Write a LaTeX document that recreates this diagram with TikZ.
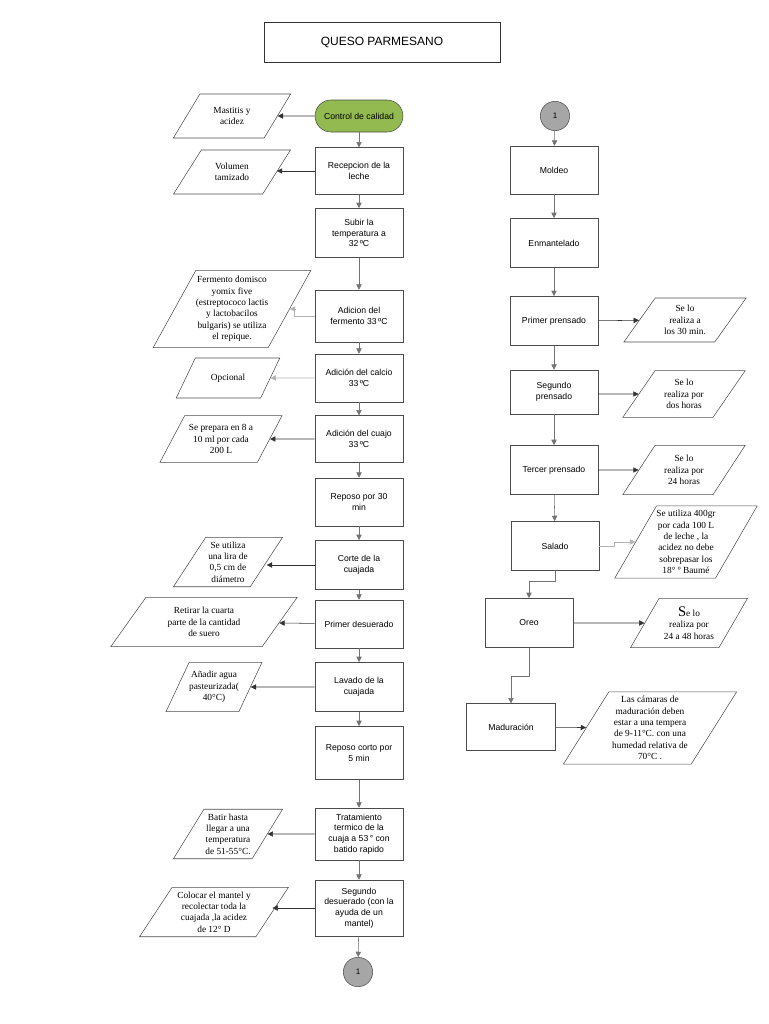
\documentclass[tikz,border=0pt]{standalone}
\usepackage{fontspec}
\setmainfont{Liberation Serif}
\newfontfamily\sans{Liberation Sans}
\usetikzlibrary{shapes.geometric,arrows.meta}
\definecolor{okgreen}{RGB}{146,186,80}
\begin{document}
\begin{tikzpicture}[x=0.75pt,y=-0.75pt,
  proc/.style={draw=black!70,minimum width=66pt,align=center,font=\sans\fontsize{6.5}{8}\selectfont},
  note/.style={draw=black!70,trapezium,trapezium left angle=60,trapezium right angle=120,
    shape border rotate=0,trapezium stretches=true,inner xsep=0pt,align=center,font=\fontsize{7}{8.5}\selectfont},
  conn/.style={draw=black!70,fill=black!35,circle,minimum size=22pt,font=\sans\fontsize{6}{7}\selectfont},
  flow/.style={-{Triangle[length=4pt,width=4pt]},black!55},
  side/.style={-{Triangle[length=4pt,width=4pt]},black!80},
  lite/.style={-{Triangle[length=4pt,width=4pt]},black!30}]
\useasboundingbox (0,0) rectangle (768,1024);
\node[draw=black!80,minimum width=177pt,minimum height=30pt,font=\sans\fontsize{9}{10}\selectfont] (title) at (382,42) {QUESO PARMESANO};
% left column
\node[proc,rounded corners=12pt,fill=okgreen,minimum height=24pt] (c1) at (359,116) {Control de calidad};
\node[proc,minimum height=35pt] (c2) at (359,171) {Recepcion de la\\leche};
\node[proc,minimum height=37pt] (c3) at (359,233) {Subir la\\temperatura a\\32\,ºC};
\node[proc,minimum height=39pt] (c4) at (359,316) {Adicion del\\fermento 33\,ºC};
\node[proc,minimum height=36pt] (c5) at (359,378) {Adición del calcio\\33\,ºC};
\node[proc,minimum height=35pt] (c6) at (359,439) {Adición del cuajo\\33\,ºC};
\node[proc,minimum height=36pt] (c7) at (359,502) {Reposo por 30\\min};
\node[proc,minimum height=37pt] (c8) at (359,565) {Corte de la\\cuajada};
\node[proc,minimum height=36pt] (c9) at (359,624) {Primer desuerado};
\node[proc,minimum height=37pt] (c10) at (359,687) {Lavado de la\\cuajada};
\node[proc,minimum height=40pt] (c11) at (359,753) {Reposo corto por\\5 min};
\node[proc,minimum height=39pt] (c12) at (359,834) {Tratamiento\\termico de la\\cuaja a 53\,° con\\batido rapido};
\node[proc,minimum height=42pt] (c13) at (359,908) {Segundo\\desuerado (con la\\ayuda de un\\mantel)};
\node[conn] (k1) at (358,972) {1};
\foreach \a/\b in {c1/c2,c2/c3,c3/c4,c4/c5,c5/c6,c6/c7,c7/c8,c8/c9,c9/c10,c10/c11,c11/c12,c12/c13,c13/k1}
  \draw[flow] (\a) -- (\b);
% left notes
\node[note,minimum width=88pt,minimum height=33pt] (n1) at (232,116) {Mastitis y\\acidez};
\node[note,minimum width=88pt,minimum height=33pt] (n2) at (232,172) {Volumen\\tamizado};
\node[note,minimum width=96pt,minimum height=58pt] (n3) at (232,309) {Fermento domisco\\yomix five\\(estreptococo lactis\\y lactobacilos\\bulgaris) se utiliza\\el repique.};
\node[note,minimum width=78pt,minimum height=30pt] (n4) at (228,378) {Opcional};
\node[note,minimum width=92pt,minimum height=35pt] (n5) at (221,439) {Se prepara en 8 a\\10 ml por cada\\200 L};
\node[note,minimum width=82pt,minimum height=36pt] (n6) at (228,562) {Se utiliza\\una lira de\\0,5 cm de\\diámetro};
\node[note,minimum width=140pt,minimum height=37pt] (n7) at (204,622) {Retirar la cuarta\\parte de la cantidad\\de suero};
\node[note,minimum width=64pt,minimum height=37pt] (n8) at (214,687) {Añadir agua\\pasteurizada(\\40°C)};
\node[note,minimum width=82pt,minimum height=36pt] (n9) at (228,834) {Batir hasta\\llegar a una\\temperatura\\de 51-55°C.};
\node[note,minimum width=112pt,minimum height=36pt] (n10) at (214,912) {Colocar el mantel y\\recolectar toda la\\cuajada ,la acidez\\de 12° D};
\draw[side] (c1) -- (n1);
\draw[side] (c2.west) -- (n2.east |- c2.west);
\draw[lite] (c4.west) -- ++(-20,0) |- (n3.east);
\draw[lite] (c5) -- (n4);
\draw[side] (c6) -- (n5);
\draw[side] (c8.west) -- (n6.east |- c8.west);
\draw[side] (c9) -- (n7);
\draw[side] (c10) -- (n8);
\draw[side] (c12) -- (n9);
\draw[side] (c13.west) -- (n10.east |- c13.west);
% right column
\node[conn] (k2) at (555,116) {1};
\node[proc,minimum height=36pt] (r1) at (554,170) {Moldeo};
\node[proc,minimum height=37pt] (r2) at (554,243) {Enmantelado};
\node[proc,minimum height=37pt] (r3) at (554,321) {Primer prensado};
\node[proc,minimum height=33pt] (r4) at (554,392) {Segundo\\prensado};
\node[proc,minimum height=37pt] (r5) at (554,470) {Tercer prensado};
\node[proc,minimum height=37pt] (r6) at (555,546) {Salado};
\node[proc,minimum height=37pt] (r7) at (529,623) {Oreo};
\node[proc,minimum height=35pt,minimum width=67pt] (r8) at (511,727) {Maduración};
\foreach \a/\b in {k2/r1,r1/r2,r2/r3,r3/r4,r4/r5,r5/r6}
  \draw[flow] (\a) -- (\b);
\draw[flow] (r6.south) -- ++(0,10) -| (r7.north);
\draw[flow] (r7.south) -- ++(0,28) -| (r8.north);
\node[note,minimum width=92pt,minimum height=33pt] (m1) at (685,320) {Se lo\\realiza a\\los 30 min.};
\node[note,minimum width=92pt,minimum height=35pt] (m2) at (684,394) {Se lo\\realiza por\\dos horas};
\node[note,minimum width=92pt,minimum height=37pt] (m3) at (684,470) {Se lo\\realiza por\\24 horas};
\node[note,minimum width=104pt,minimum height=54pt] (m4) at (686,542) {Se utiliza 400gr\\por cada 100 L\\de leche , la\\acidez no debe\\sobrepasar los\\18° º Baumé};
\node[note,minimum width=88pt,minimum height=37pt] (m5) at (689,623) {{\fontsize{11}{11}\selectfont S}e lo\\realiza por\\24 a 48 horas};
\node[note,minimum width=130pt,minimum height=54pt] (m6) at (650,728) {Las cámaras de\\maduración deben\\estar a una tempera\\de 9-11°C. con una\\humedad relativa de\\70°C .};
\draw[side] (r3) -- (m1);
\draw[side] (r4.east |- m2) -- (m2);
\draw[side] (r5) -- (m3);
\draw[lite] (r6.east) -- ++(15,0) |- (m4);
\draw[side] (r7) -- (m5);
\draw[side] (r8) -- (m6);
\end{tikzpicture}
\end{document}
